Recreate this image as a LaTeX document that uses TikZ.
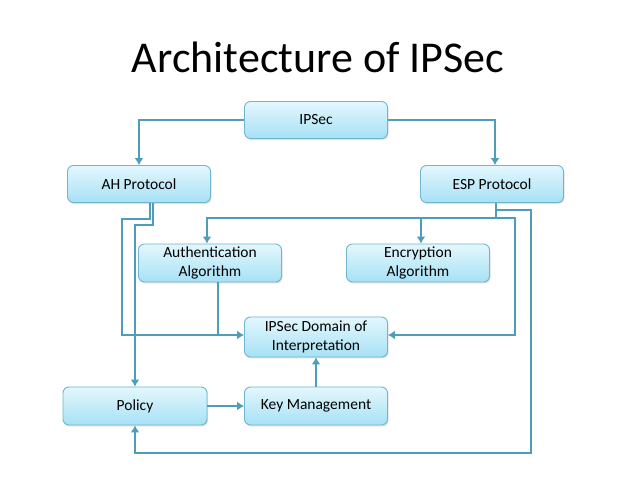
\documentclass[tikz,border=0pt]{standalone}
\usepackage{fontspec}
\setmainfont{Carlito}
\usepackage{xcolor}
\usetikzlibrary{shapes,arrows.meta,positioning,shadows}

\definecolor{linkblue}{RGB}{78,158,186}
\definecolor{boxedge}{RGB}{112,182,206}
\definecolor{boxtop}{RGB}{228,247,253}
\definecolor{boxbot}{RGB}{166,225,245}

\begin{document}
\begin{tikzpicture}[
    x=1pt, y=-1pt,
    box/.style={rectangle, rounded corners=6pt, draw=boxedge, line width=0.9pt,
        top color=boxtop, bottom color=boxbot, minimum width=143pt, minimum height=37pt,
        inner sep=0pt, align=center, font=\fontsize{15.5}{19}\selectfont,
        drop shadow={shadow xshift=1pt, shadow yshift=-1.5pt, opacity=0.25}},
    link/.style={draw=linkblue, line width=2.4pt, -{Latex[length=7pt,width=9pt]}},
    line/.style={draw=linkblue, line width=2.4pt}
]
\fill[white] (0,0) rectangle (638,478);
\useasboundingbox (0,0) rectangle (638,478);

\node[anchor=base, font=\fontsize{44}{50}\selectfont] (title) at (318,73) {Architecture of IPSec};

\node[box] (ipsec) at (316,120) {IPSec};
\node[box] (ah) at (139,184) {AH Protocol};
\node[box] (esp) at (492,184) {ESP Protocol};
\node[box, minimum height=38pt] (auth) at (210,263) {Authentication\\Algorithm};
\node[box, minimum height=38pt] (enc) at (418,263) {Encryption\\Algorithm};
\node[box, minimum height=40pt] (doi) at (316,337) {IPSec Domain of\\Interpretation};
\node[box, minimum width=144pt, minimum height=38pt] (policy) at (135,406) {Policy};
\node[box, minimum height=38pt] (km) at (316,406) {Key Management};

\coordinate (doiL) at ([yshift=2pt]doi.west);
\coordinate (doiR) at ([yshift=2pt]doi.east);
\coordinate (espJ) at ([xshift=4pt,yshift=-15pt]esp.south);
\coordinate (espB) at ([xshift=4pt,yshift=-7pt]esp.south);

\draw[link] (ipsec.west) -| (ah.north);
\draw[link] (ipsec.east) -| ([xshift=3pt]esp.north);

\draw[link] ([xshift=11pt]ah.south) -- ++(0,16) -- ++(-28,0) |- (doiL);
\draw[link] ([xshift=14pt]ah.south) -- ++(0,22) -| (policy);
\draw[line] ([xshift=8pt]auth.south) -- ([xshift=8pt]auth.south |- doiL);

\draw[line] ([xshift=4pt]esp.south) -- (espJ);
\draw[link] (espJ) -| ([xshift=-3pt]auth.north);
\draw[link] ([xshift=3pt]enc.north |- espJ) -- ([xshift=3pt]enc.north);
\draw[link] (espJ) -- ++(19,0) |- (doiR);
\draw[link] (espB) -- ++(35,0) -- ++(0,243) -| (policy);

\draw[link] (policy) -- (km);
\draw[link] (km) -- (doi);
\end{tikzpicture}
\end{document}
